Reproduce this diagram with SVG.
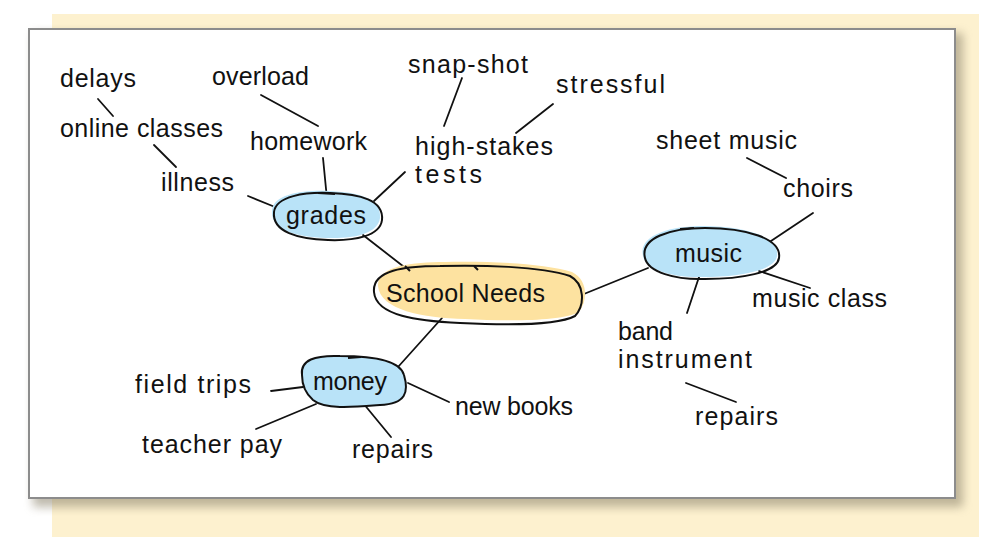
<svg xmlns="http://www.w3.org/2000/svg" width="1000" height="551" viewBox="0 0 1000 551">
<style>
.t{font-family:"Liberation Sans",Arial,sans-serif;font-size:25px;fill:#111}
.c{stroke:#111;stroke-width:1.8;fill:none;stroke-linecap:round}
.o{stroke:#111;stroke-width:2;fill:none;stroke-linejoin:round}
.blue{fill:#b9e3f8}
.gold{fill:#fde2a0}
</style>
<defs>
<filter id="sh" x="-10%" y="-10%" width="120%" height="120%">
<feGaussianBlur stdDeviation="5"/>
</filter>
</defs>
<rect x="0" y="0" width="1000" height="551" fill="#ffffff"/>
<rect x="52" y="14" width="927" height="523" fill="#fdf1cf"/>
<rect x="33" y="33" width="930" height="474" fill="#8a826a" opacity="0.55" filter="url(#sh)"/>
<rect x="29" y="29" width="926" height="469" fill="#ffffff" stroke="#8c8c8c" stroke-width="2"/>
<g id="connectors">
<line class="c" x1="98" y1="99" x2="113" y2="116"/>
<line class="c" x1="261" y1="95" x2="318" y2="126"/>
<line class="c" x1="154" y1="145" x2="176" y2="167"/>
<line class="c" x1="323" y1="158" x2="327" y2="199"/>
<line class="c" x1="248" y1="196" x2="275" y2="207"/>
<line class="c" x1="374" y1="201" x2="405" y2="172"/>
<line class="c" x1="363" y1="235" x2="408" y2="270"/>
<line class="c" x1="462" y1="78" x2="444" y2="126"/>
<line class="c" x1="553" y1="104" x2="516" y2="133"/>
<line class="c" x1="747" y1="158" x2="786" y2="178"/>
<line class="c" x1="813" y1="213" x2="768" y2="243"/>
<line class="c" x1="579" y1="296" x2="648" y2="268"/>
<line class="c" x1="759" y1="271" x2="810" y2="288"/>
<line class="c" x1="699" y1="277" x2="687" y2="313"/>
<line class="c" x1="686" y1="383" x2="736" y2="402"/>
<line class="c" x1="442" y1="318" x2="398" y2="367"/>
<line class="c" x1="271" y1="391" x2="303" y2="387"/>
<line class="c" x1="256" y1="429" x2="316" y2="404"/>
<line class="c" x1="363" y1="403" x2="391" y2="437"/>
<line class="c" x1="408" y1="383" x2="449" y2="402"/>
</g>
<g id="node-school-needs">
<path class="gold" d="M 378,286 C 377,266 412,262 445,262 C 485,261 543,263 572,272 C 588,280 588,300 579,312 C 560,322 505,321 465,319 C 423,318 380,310 378,286 Z"/>
<path class="o" d="M 374,292 C 372,270 405,266 440,266 C 480,265 540,266 570,276 C 585,284 585,305 575,316 C 556,326 500,325 460,323 C 418,321 376,316 374,292 Z"/>
<path class="o" d="M 405,266 L 410,271 M 474,266 L 478,270"/>
<text class="t" x="386" y="302" textLength="159" lengthAdjust="spacing">School Needs</text>
</g>
<g id="node-grades">
<path class="blue" d="M 272,210 C 274,194 303,190 328,191 C 358,192 382,198 380,218 C 378,234 353,239 326,238 C 296,237 270,230 272,210 Z"/>
<path class="o" d="M 274,212 C 276,196 305,192 330,193 C 360,194 384,200 382,220 C 380,236 355,241 328,240 C 298,239 272,232 274,212 Z"/>
<path class="o" d="M 318,193 L 335,194"/>
<text class="t" x="286" y="224" textLength="80" lengthAdjust="spacing">grades</text>
</g>
<g id="node-music">
<path class="blue" d="M 643,256 C 638,236 668,226 703,226 C 743,226 780,236 777,256 C 775,271 738,277 703,277 C 673,278 646,270 643,256 Z"/>
<path class="o" d="M 645,258 C 640,238 670,228 705,228 C 745,228 782,238 779,258 C 777,273 740,279 705,279 C 675,280 648,272 645,258 Z"/>
<path class="o" d="M 680,229 L 694,228"/>
<text class="t" x="675" y="262" textLength="67" lengthAdjust="spacing">music</text>
</g>
<g id="node-money">
<path class="blue" d="M 302,375 C 300,360 315,355 340,356 C 370,356 400,360 404,375 C 409,392 406,404 380,405 C 355,407 325,410 313,400 C 305,393 302,385 302,375 Z"/>
<path class="o" d="M 302,375 C 300,360 315,355 340,356 C 370,356 400,360 404,375 C 409,392 406,404 380,405 C 355,407 325,410 313,400 C 305,393 302,385 302,375 Z"/>
<path class="o" d="M 348,358 L 361,357"/>
<text class="t" x="313" y="390" textLength="74" lengthAdjust="spacing">money</text>
</g>
<g id="labels">
<text id="delays" class="t" x="60" y="87" textLength="76" lengthAdjust="spacing">delays</text>
<text id="overload" class="t" x="212" y="85" textLength="97" lengthAdjust="spacing">overload</text>
<text id="online-classes" class="t" x="60" y="137" textLength="163" lengthAdjust="spacing">online classes</text>
<text id="homework" class="t" x="250" y="150" textLength="117" lengthAdjust="spacing">homework</text>
<text id="illness" class="t" x="161" y="191" textLength="73" lengthAdjust="spacing">illness</text>
<text id="snap-shot" class="t" x="408" y="73" textLength="120" lengthAdjust="spacing">snap-shot</text>
<text id="stressful" class="t" x="556" y="93" textLength="109" lengthAdjust="spacing">stressful</text>
<text id="high-stakes" class="t" x="415" y="155" textLength="138" lengthAdjust="spacing">high-stakes</text>
<text id="tests" class="t" x="415" y="183" textLength="67" lengthAdjust="spacing">tests</text>
<text id="sheet-music" class="t" x="656" y="149" textLength="141" lengthAdjust="spacing">sheet music</text>
<text id="choirs" class="t" x="783" y="197" textLength="70" lengthAdjust="spacing">choirs</text>
<text id="music-class" class="t" x="752" y="307" textLength="135" lengthAdjust="spacing">music class</text>
<text id="band" class="t" x="618" y="340" textLength="55" lengthAdjust="spacing">band</text>
<text id="instrument" class="t" x="618" y="368" textLength="134" lengthAdjust="spacing">instrument</text>
<text id="repairs-music" class="t" x="695" y="425" textLength="83" lengthAdjust="spacing">repairs</text>
<text id="field-trips" class="t" x="135" y="393" textLength="116" lengthAdjust="spacing">field trips</text>
<text id="new-books" class="t" x="455" y="415" textLength="118" lengthAdjust="spacing">new books</text>
<text id="teacher-pay" class="t" x="142" y="453" textLength="140" lengthAdjust="spacing">teacher pay</text>
<text id="repairs-money" class="t" x="352" y="458" textLength="81" lengthAdjust="spacing">repairs</text>
</g>
</svg>
